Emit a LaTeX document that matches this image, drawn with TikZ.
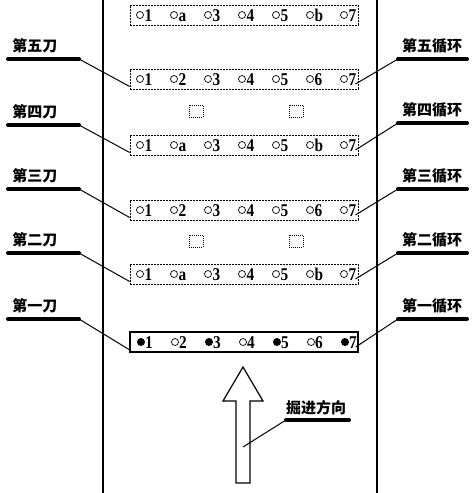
\documentclass[tikz,border=0pt]{standalone}
\usepackage{fontspec}
\setmainfont{Liberation Serif}
\newfontfamily\digf{Liberation Serif}[FakeStretch=0.85]
\newfontfamily\cjk{Noto Sans CJK SC}
\begin{document}
\begin{tikzpicture}[x=1pt,y=-1pt,
  rowdot/.style={draw, line width=0.9pt, dash pattern=on 2pt off 1pt, minimum width=228pt, minimum height=20pt, inner sep=0pt},
  rowsolid/.style={draw, line width=1.4pt, minimum width=228pt, minimum height=20pt, inner sep=0pt},
  lab/.style={font=\cjk\bfseries\fontsize{15}{15}\selectfont, inner sep=0pt},
  uline/.style={line width=4pt, line cap=round},
  conn/.style={line width=1pt},
  dig/.style={font=\digf\bfseries\fontsize{18}{18}\selectfont, inner sep=0pt},
  ring/.style={circle, draw, line width=0.7pt, minimum size=7pt, inner sep=0pt},
  blackdot/.style={circle, fill, minimum size=8pt, inner sep=0pt},
  sq/.style={draw, dash pattern=on 1pt off 1pt, line width=0.8pt, minimum width=14pt, minimum height=12pt, inner sep=0pt},
  vline/.style={line width=1.2pt}
]
\useasboundingbox (0,0) rectangle (474,493);
% side walls
\coordinate (wl1) at (103,0); \coordinate (wl2) at (103,493);
\coordinate (wr1) at (377,0); \coordinate (wr2) at (377,493);
\draw[vline] (wl1) -- (wl2);
\draw[vline] (wr1) -- (wr2);

% dotted rows
\node[rowdot] (rt) at (244,15) {};
\node[rowdot] (r5) at (244,79) {};
\node[rowdot] (r4) at (244,145) {};
\node[rowdot] (r3) at (244,210) {};
\node[rowdot] (r2) at (244,274) {};
\node[rowsolid] (r1) at (244,342) {};

\foreach \rn/\yy/\two/\six in {t/15/a/b, r5/79/2/6, r4/145/a/b, r3/210/2/6, r2/274/a/b}{
  \foreach \i/\t in {1/1,2/\two,3/3,4/4,5/5,6/\six,7/7}{
    \node[ring] (\rn c\i) at ({140+34*(\i-1)},\yy) {};
    \node[dig, anchor=base west] (\rn d\i) at ({144.5+34*(\i-1)},\yy+6) {\t};
  }
}
% first row
\foreach \i in {1,3,5,7}{
  \node[blackdot] (r1c\i) at ({141+34*(\i-1)},342) {};
  \node[dig, anchor=base west] (r1d\i) at ({145+34*(\i-1)},348) {\i};
}
\foreach \i in {2,4,6}{
  \node[ring] (r1c\i) at ({141+34*(\i-1)},342) {};
  \node[dig, anchor=base west] (r1d\i) at ({145+34*(\i-1)},348) {\i};
}

% small squares
\node[sq] (s1) at (196,111) {};
\node[sq] (s2) at (296,111) {};
\node[sq] (s3) at (196,241) {};
\node[sq] (s4) at (296,241) {};

% left labels
\foreach \nm/\txt/\uy in {5/第五刀/59, 4/第四刀/125, 3/第三刀/189, 2/第二刀/253, 1/第一刀/319}{
  \node[lab] (ll\nm) at (35,\uy-13) {\txt};
  \coordinate (lua\nm) at (8,\uy);
  \coordinate (lub\nm) at (79,\uy);
  \draw[uline] (lua\nm) -- (lub\nm);
  \draw[conn] (lub\nm) -- ([yshift=3pt]r\nm.south west);
}
% right labels
\foreach \nm/\txt/\uy in {5/第五循环/59, 4/第四循环/123, 3/第三循环/189, 2/第二循环/253, 1/第一循环/319}{
  \node[lab] (rl\nm) at (432,\uy-13) {\txt};
  \coordinate (rua\nm) at (398,\uy);
  \coordinate (rub\nm) at (467,\uy);
  \draw[uline] (rua\nm) -- (rub\nm);
  \draw[conn] (rua\nm) -- ([xshift=-3pt,yshift=-5pt]r\nm.east);
}

% advance arrow
\draw[line width=1.2pt, line join=miter] (236,483) -- (236,401) -- (223,401) -- (243,367) -- (263,401) -- (250,401) -- (250,483) -- cycle;
\coordinate (ap) at (243,447);
\node[lab] (adv) at (316,408) {掘进方向};
\coordinate (aua) at (286,420);
\coordinate (aub) at (349,420);
\draw[uline] (aua) -- (aub);
\draw[conn] (aua) -- (ap);
\end{tikzpicture}
\end{document}
